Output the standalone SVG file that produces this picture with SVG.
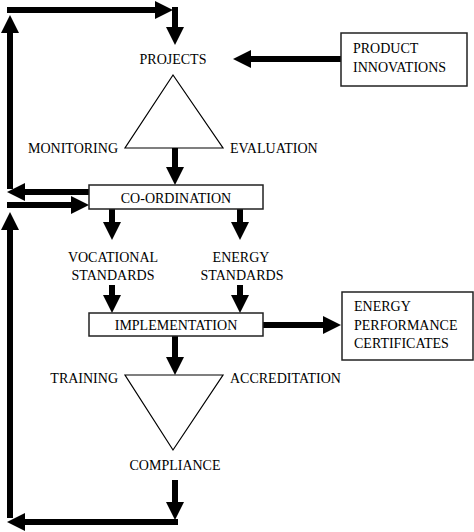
<svg xmlns="http://www.w3.org/2000/svg" width="474" height="532" viewBox="0 0 474 532">
<style>
text{font-family:"Liberation Serif","Times New Roman","DejaVu Serif",serif;font-size:14px;fill:#000}
.box{fill:#fff;stroke:#222;stroke-width:1.5}
.tri{fill:#fff;stroke:#000;stroke-width:1.2}
.c{fill:none;stroke:#000;stroke-width:6}
.m{text-anchor:middle}
.e{text-anchor:end}
</style>
<defs>
<marker id="ah" markerUnits="userSpaceOnUse" markerWidth="18" markerHeight="18" refX="0" refY="9" orient="auto" overflow="visible">
<path d="M0,0 L18,9 L0,18 Z" fill="#000"/>
</marker>
</defs>
<rect width="474" height="532" fill="#fff"/>
<g id="connectors">
<path class="c" d="M89,192 H25" marker-end="url(#ah)"/>
<path class="c" d="M10,189 V33" marker-end="url(#ah)"/>
<path class="c" d="M7,10 H155" marker-end="url(#ah)"/>
<path class="c" d="M175,7 V27" marker-end="url(#ah)"/>
<path class="c" d="M341,59 H251" marker-end="url(#ah)"/>
<path class="c" d="M175,148 V167" marker-end="url(#ah)"/>
<path class="c" d="M112,209 V222" marker-end="url(#ah)"/>
<path class="c" d="M240,209 V222" marker-end="url(#ah)"/>
<path class="c" d="M112,285 V295" marker-end="url(#ah)"/>
<path class="c" d="M240,285 V295" marker-end="url(#ah)"/>
<path class="c" d="M263,325 H323" marker-end="url(#ah)"/>
<path class="c" d="M175,336 V357" marker-end="url(#ah)"/>
<path class="c" d="M175,480 V502" marker-end="url(#ah)"/>
<path class="c" d="M178,522 H25" marker-end="url(#ah)"/>
<path class="c" d="M10,518 V230" marker-end="url(#ah)"/>
<path class="c" d="M7,205 H71" marker-end="url(#ah)"/>
</g>
<g id="projects" font-family="Liberation Serif, serif">
<text class="m" x="173" y="64">PROJECTS</text>
<polygon class="tri" points="173,75 125,148 223,148"/>
<text class="e" x="118" y="153">MONITORING</text>
<text x="230" y="153">EVALUATION</text>
</g>
<g id="product-innovations" font-family="Liberation Serif, serif">
<rect class="box" x="341" y="33" width="126" height="53"/>
<text x="353" y="53">PRODUCT</text>
<text x="353" y="72">INNOVATIONS</text>
</g>
<g id="co-ordination" font-family="Liberation Serif, serif">
<rect class="box" x="89" y="185" width="174" height="24"/>
<text class="m" x="176" y="203">CO-ORDINATION</text>
</g>
<g id="vocational-standards" font-family="Liberation Serif, serif">
<text class="m" x="113" y="262">VOCATIONAL</text>
<text class="m" x="113" y="280">STANDARDS</text>
</g>
<g id="energy-standards" font-family="Liberation Serif, serif">
<text class="m" x="241" y="262">ENERGY</text>
<text class="m" x="242" y="280">STANDARDS</text>
</g>
<g id="implementation" font-family="Liberation Serif, serif">
<rect class="box" x="89" y="313" width="174" height="23"/>
<text class="m" x="176" y="330">IMPLEMENTATION</text>
</g>
<g id="energy-performance-certificates" font-family="Liberation Serif, serif">
<rect class="box" x="342" y="292" width="131" height="68"/>
<text x="354" y="311">ENERGY</text>
<text x="354" y="330">PERFORMANCE</text>
<text x="354" y="348">CERTIFICATES</text>
</g>
<g id="compliance" font-family="Liberation Serif, serif">
<polygon class="tri" points="125,375 223,375 173,450"/>
<text class="e" x="118" y="383">TRAINING</text>
<text x="230" y="383">ACCREDITATION</text>
<text class="m" x="175" y="470">COMPLIANCE</text>
</g>
</svg>
